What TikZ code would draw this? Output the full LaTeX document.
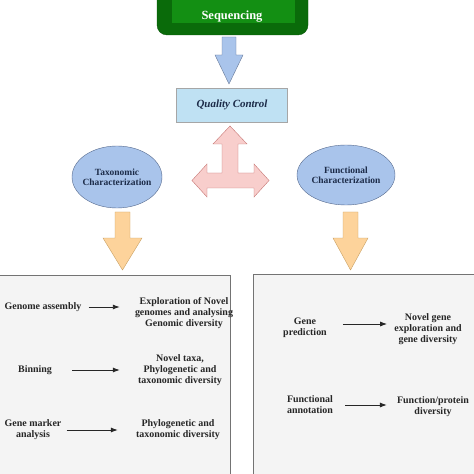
\documentclass[tikz,border=0pt]{standalone}
\usepackage{fontspec}
\setmainfont{Liberation Serif}
\usepackage{xcolor}
\usetikzlibrary{shapes.geometric,arrows.meta}

\definecolor{seqdark}{HTML}{0A6B0A}
\definecolor{seqlight}{HTML}{138F13}
\definecolor{qcblue}{HTML}{BFE1F3}
\definecolor{ellblue}{HTML}{A9C4EB}
\definecolor{ellline}{HTML}{55698C}
\definecolor{navytext}{HTML}{1C2B48}
\definecolor{pinkfill}{HTML}{F8CECC}
\definecolor{pinkline}{HTML}{B85450}
\definecolor{orangefill}{HTML}{FDD39B}
\definecolor{orangeline}{HTML}{C9A063}
\definecolor{boxgray}{HTML}{F4F4F4}

\begin{document}
\begin{tikzpicture}[x=1bp,y=-1bp,
    txt/.style={font=\fontsize{10}{11}\selectfont\bfseries, align=center, inner sep=0pt, text=black!85},
    ell/.style={ellipse, draw=ellline, fill=ellblue, inner sep=0pt},
    elltxt/.style={font=\fontsize{9.5}{10.5}\selectfont\bfseries, align=center, inner sep=0pt, text=navytext},
    res/.style={-{Latex[length=7bp,width=5bp]}, line width=0.9bp, black!85}]
    \useasboundingbox (0,0) rectangle (474,474);

    \draw[fill=boxgray, draw=gray!90!black] (-2,275) rectangle (230,480);
    \draw[fill=boxgray, draw=gray!90!black] (253,274) rectangle (480,480);

    \draw[fill=seqdark, draw=seqdark!80!black, rounded corners=10bp] (157,-20) rectangle (308,35);
    \fill[seqlight] (172,-20) rectangle (295,23);
    \node[text=white, font=\fontsize{12.5}{14}\selectfont\bfseries] (seq) at (232,17) {Sequencing};

    \draw[fill=ellblue, draw=ellline!90] (222,37) -- (236,37) -- (236,55) -- (243,55) -- (229,84) -- (215,55) -- (222,55) -- cycle;

    \node[draw=gray!70, fill=qcblue, minimum width=111bp, minimum height=34bp, font=\fontsize{11}{13}\selectfont\bfseries\itshape, text=navytext] (qc) at (232,105) {Quality Control};

    \draw[fill=pinkfill, draw=pinkline!80] (230,126) -- (247,144) -- (238,144) -- (238,173) -- (254,173) -- (254,164) -- (269,180.5) -- (254,197) -- (254,188) -- (207,188) -- (207,197) -- (192,180.5) -- (207,164) -- (207,173) -- (222,173) -- (222,144) -- (213,144) -- cycle;

    \node[ell, minimum width=90bp, minimum height=62bp] (tax) at (117,177) {};
    \node[elltxt] (taxtext) at (tax) {Taxonomic\\Characterization};
    \node[ell, minimum width=98bp, minimum height=60bp] (func) at (346,175) {};
    \node[elltxt] (functext) at (func) {Functional\\Characterization};

    \draw[fill=orangefill, draw=orangeline] (115,212) -- (130,212) -- (130,238) -- (142,238) -- (122.5,270) -- (103,238) -- (115,238) -- cycle;
    \draw[fill=orangefill, draw=orangeline] (343,212) -- (358,212) -- (358,238) -- (368,238) -- (350.5,270) -- (333,238) -- (343,238) -- cycle;

    \node[txt] (asm) at (43,307) {Genome assembly};
    \node[txt] (novgen) at (184,313) {Exploration of Novel\\genomes and analysing\\Genomic diversity};
    \node[txt] (bin) at (35,370) {Binning};
    \node[txt] (taxa) at (180,370) {Novel taxa,\\Phylogenetic and\\taxonomic diversity};
    \node[txt] (marker) at (33,430) {Gene marker\\analysis};
    \node[txt] (phylo) at (178,430) {Phylogenetic and\\taxonomic diversity};

    \draw[res, shorten <=7bp, shorten >=15bp] (asm.east) -- (asm.east -| novgen.west);
    \draw[res, shorten <=20bp, shorten >=18bp] (bin.east) -- (bin.east -| taxa.west);
    \draw[res, shorten <=5bp, shorten >=18bp] (marker.east) -- (marker.east -| phylo.west);

    \node[txt] (pred) at (305,328) {Gene\\prediction};
    \node[txt] (novgene) at (428,329) {Novel gene\\exploration and\\gene diversity};
    \node[txt] (annot) at (310,405) {Functional\\annotation};
    \node[txt] (protein) at (433,407) {Function/protein\\diversity};

    \draw[res, shorten <=16bp, shorten >=7bp] ([yshift=4bp]pred.east) -- ([yshift=4bp]pred.east -| novgene.west);
    \draw[res, shorten <=12bp, shorten >=10bp] (annot.east) -- (annot.east -| protein.west);
\end{tikzpicture}
\end{document}
